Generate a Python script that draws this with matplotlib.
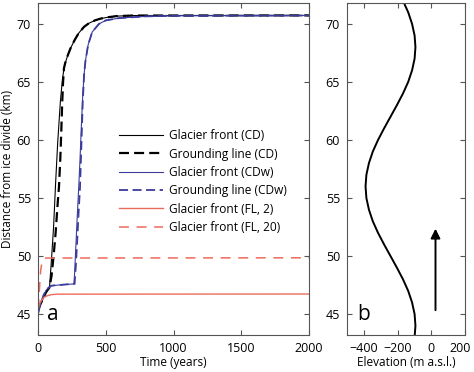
import numpy as np
import matplotlib
matplotlib.use("Agg")
import matplotlib.pyplot as plt
import matplotlib.transforms as mtransforms

plt.rcParams['font.family'] = ['Open Sans', 'DejaVu Sans']

# panel a: front / grounding line positions (km) vs time (years)
t_cd = [0, 20, 40, 60, 85, 100, 115, 130, 145, 165, 180, 190, 200, 220, 240, 270, 300,
        340, 375, 420, 460, 520, 580, 700, 2000]
front_cd = [45.4, 45.9, 46.4, 46.9, 47.3, 49.8, 52.5, 56.3, 59.7, 63.3, 65.2, 66.0, 66.6,
            67.3, 67.9, 68.6, 69.2, 69.75, 70.05, 70.3, 70.45, 70.58, 70.67, 70.72, 70.73]
t_gl_cd = [0, 20, 40, 60, 85, 100, 115, 130, 145, 155, 165, 172, 178, 185, 192, 200, 220,
           240, 270, 300, 340, 375, 420, 460, 520, 580, 700, 2000]
gl_cd = [45.4, 45.9, 46.4, 46.9, 47.3, 48.3, 50.0, 52.0, 54.5, 56.0, 58.5, 60.8, 63.0,
         65.0, 66.2, 66.6, 67.3, 67.9, 68.6, 69.2, 69.75, 70.05, 70.3, 70.45, 70.58,
         70.67, 70.72, 70.73]

t_cdw = [0, 10, 20, 40, 60, 80, 100, 150, 200, 265, 270, 280, 290, 300, 310, 320, 330,
         340, 350, 370, 400, 450, 500, 600, 800, 1000, 2000]
front_cdw = [45.0, 45.5, 45.9, 46.6, 47.05, 47.3, 47.45, 47.5, 47.55, 47.6, 48.5, 51.0,
             53.5, 55.8, 58.3, 61.2, 63.8, 65.6, 66.8, 68.2, 69.3, 70.0, 70.3, 70.5,
             70.65, 70.7, 70.72]
t_gl_cdw = [0, 10, 20, 40, 60, 80, 100, 150, 200, 270, 280, 290, 300, 310, 320, 330, 340,
            350, 370, 400, 450, 500, 600, 800, 1000, 2000]
gl_cdw = [45.0, 45.5, 45.9, 46.6, 47.05, 47.3, 47.45, 47.5, 47.55, 47.6, 49.3, 51.5,
          53.8, 55.9, 59.5, 63.2, 65.6, 66.8, 68.2, 69.3, 70.0, 70.3, 70.5, 70.65, 70.7,
          70.72]

t_fl2 = [0, 10, 20, 40, 60, 100, 150, 2000]
front_fl2 = [45.4, 45.8, 46.1, 46.4, 46.55, 46.68, 46.72, 46.73]
t_fl20 = [0, 5, 10, 15, 20, 30, 40, 60, 2000]
front_fl20 = [45.4, 46.0, 47.0, 48.0, 48.8, 49.5, 49.75, 49.83, 49.85]

# panel b: bed elevation (m a.s.l.) along the flowline
dist_b = [43, 44, 45, 46, 47, 48, 49, 50, 51, 52, 53, 54, 55, 56, 57, 58, 59, 60,
          61, 62, 63, 64, 65, 66, 67, 68, 69, 70, 71, 72]
elev_b = [-99, -94, -99, -114, -137, -168, -204, -242, -280, -316, -347, -370, -385,
          -390, -385, -370, -347, -316, -280, -242, -204, -168, -137, -114, -99, -94,
          -99, -114, -137, -168]

W, H = 474, 372
fig = plt.figure(figsize=(W / 100, H / 100), dpi=100)
ax = fig.add_axes([38 / W, 37 / H, 271 / W, 332 / H])
axb = fig.add_axes([347 / W, 37 / H, 118 / W, 332 / H])

red = '#ee6a5a'
blue = '#3c3c9c'
ax.plot(t_cd, front_cd, color='black', lw=0.8, label='Glacier front (CD)')
ax.plot(t_gl_cd, gl_cd, color='black', lw=1.6, dashes=(4.5, 2.3), label='Grounding line (CD)')
ax.plot(t_cdw, front_cdw, color=blue, lw=0.8, label='Glacier front (CDw)')
ax.plot(t_gl_cdw, gl_cdw, color=blue, lw=1.3, dashes=(5, 2.5), label='Grounding line (CDw)')
ax.plot(t_fl2, front_fl2, color=red, lw=1.0, label='Glacier front (FL, 2)')
ax.plot(t_fl20, front_fl20, color=red, lw=1.1, dashes=(6.5, 5), label='Glacier front (FL, 20)')

axb.plot(elev_b, dist_b, color='black', lw=1.4)
axb.annotate('', xy=(25, 52.6), xytext=(25, 45.1),
             arrowprops=dict(arrowstyle='-|>', color='black', lw=1.4, mutation_scale=14))

for a in (ax, axb):
    a.set_ylim(43.2, 71.8)
    a.set_yticks([45, 50, 55, 60, 65, 70])
    a.tick_params(direction='in', length=3.5, top=True, right=True, labelsize=9,
                  color='#555555', pad=5)
    for s in a.spines.values():
        s.set_color('#555555')
        s.set_linewidth(0.8)

ax.set_xlim(0, 2000)
ax.set_xticks([0, 500, 1000, 1500, 2000])
axb.set_xlim(-500, 200)
axb.set_xticks([-400, -200, 0, 200])
axb.set_xticklabels(['\u2212400', '\u2212200', '0', '200'])
# nudge the last label so it stays inside the figure
last = axb.get_xticklabels()[-1]
last.set_transform(last.get_transform() + mtransforms.ScaledTranslation(-5 / 100, 0, fig.dpi_scale_trans))

ax.set_xlabel('Time (years)', fontsize=8.5, labelpad=1)
ax.set_ylabel('Distance from ice divide (km)', fontsize=8.5, labelpad=2)
axb.set_xlabel('Elevation (m a.s.l.)', fontsize=8.5, labelpad=1)

ax.text(0.032, 0.062, 'a', transform=ax.transAxes, fontsize=15, va='center')
axb.text(0.09, 0.062, 'b', transform=axb.transAxes, fontsize=15, va='center')

ax.legend(loc='center left', bbox_to_anchor=(0.30, 0.462), frameon=False, fontsize=8.6,
          handlelength=3.7, handletextpad=0.5, labelspacing=0.45, borderpad=0,
          borderaxespad=0)

fig.savefig('out.png', dpi=100)
